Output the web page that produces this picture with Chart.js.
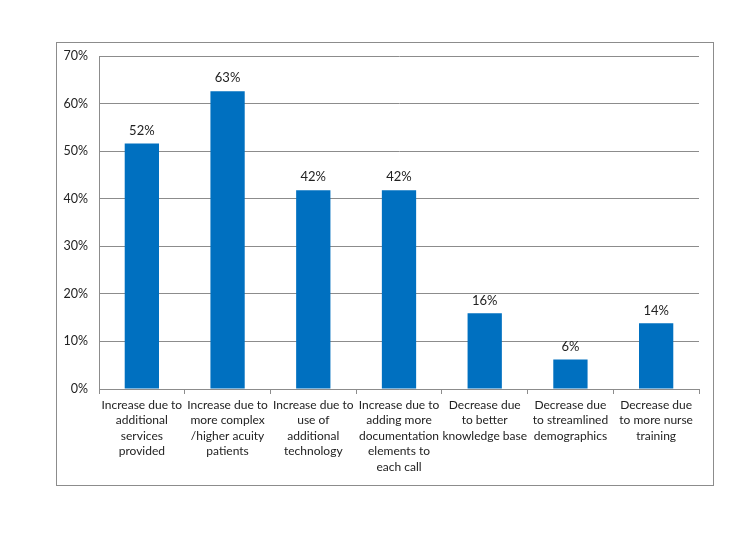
<!DOCTYPE html>
<html>
<head>
<meta charset="utf-8">
<script src="https://cdn.jsdelivr.net/npm/chart.js@4/dist/chart.umd.min.js"></script>
<style>
  html, body { margin: 0; padding: 0; background: #fff; }
  #wrap { position: relative; width: 750px; height: 541px; }
  #frame { position: absolute; left: 56px; top: 42px; width: 656px; height: 442px; border: 1px solid #8c8c8c; }
  #chart { position: absolute; left: 0; top: 0; }
</style>
</head>
<body>
<div id="wrap">
  <div id="frame"></div>
  <canvas id="chart" width="750" height="541"></canvas>
</div>
<script>
const categories = [
  ['Increase due to', 'additional', 'services', 'provided'],
  ['Increase due to', 'more complex', '/higher acuity', 'patients'],
  ['Increase due to', 'use of', 'additional', 'technology'],
  ['Increase due to', 'adding more', 'documentation', 'elements to', 'each call'],
  ['Decrease due', 'to better', 'knowledge base'],
  ['Decrease due', 'to streamlined', 'demographics'],
  ['Decrease due', 'to more nurse', 'training'],
];
const shares = [51.6, 62.6, 41.8, 41.8, 15.9, 6.2, 13.8];
const yTicks = [0, 10, 20, 30, 40, 50, 60, 70];

const fontFamily = 'Lato, "Open Sans", sans-serif';
const gridColor = '#8c8c8c';

const barLabels = {
  id: 'barLabels',
  afterDatasetsDraw(chart) {
    const { ctx } = chart;
    const meta = chart.getDatasetMeta(0);
    ctx.save();
    ctx.font = `13px ${fontFamily}`;
    ctx.fillStyle = '#222';
    ctx.textAlign = 'center';
    ctx.textBaseline = 'middle';
    meta.data.forEach((bar, i) => {
      ctx.fillText(`${Math.round(shares[i])}%`, bar.x, bar.y - 13);
    });
    ctx.restore();
  },
};

new Chart(document.getElementById('chart').getContext('2d'), {
  type: 'bar',
  data: {
    labels: categories,
    datasets: [{
      data: shares,
      backgroundColor: '#0070c0',
      barPercentage: 0.4,
      categoryPercentage: 1,
    }],
  },
  options: {
    responsive: false,
    animation: false,
    layout: { padding: { left: 56, right: 51, top: 56, bottom: 0 } },
    plugins: { legend: { display: false }, tooltip: { enabled: false } },
    scales: {
      x: {
        grid: { drawOnChartArea: false, drawTicks: true, tickLength: 5, color: gridColor },
        border: { color: gridColor },
        ticks: {
          color: '#222',
          font: { family: fontFamily, size: 12, lineHeight: 1.3 },
          maxRotation: 0,
          autoSkip: false,
          padding: 3,
        },
        afterFit: (scale) => { scale.height = 152; },
      },
      y: {
        min: 0,
        max: 70,
        afterBuildTicks: (scale) => { scale.ticks = yTicks.map((v) => ({ value: v })); },
        grid: { color: gridColor, drawTicks: false },
        border: { color: gridColor },
        ticks: {
          color: '#222',
          font: { family: fontFamily, size: 12.5 },
          padding: 11,
          callback: (v) => `${v}%`,
        },
        afterFit: (scale) => { scale.width = 43; },
      },
    },
  },
  plugins: [barLabels],
});
</script>
</body>
</html>
